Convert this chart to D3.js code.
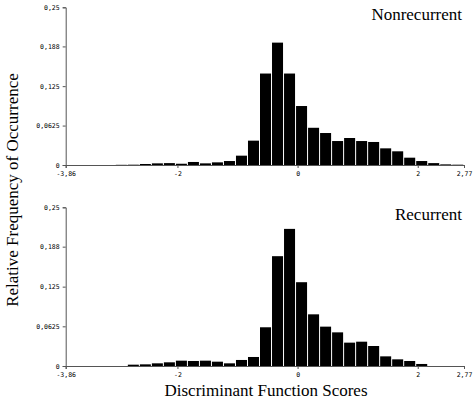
<!DOCTYPE html>
<html>
<head>
<meta charset="utf-8">
<script src="https://cdn.jsdelivr.net/npm/d3@7"></script>
<style>
body { margin: 0; background: #fff; }
.tick text { font-family: "DejaVu Sans Mono", monospace; font-size: 6.5px; }
.axis path, .axis line { stroke: #555; }
</style>
</head>
<body>
<svg id="chart" width="474" height="403"></svg>
<script>
"use strict";
// bin left edges: firstEdge + binWidth * i
var firstEdge = -3.034;
var binWidth = 0.2;
var nonrecurrent = [0.0003, 0.0005, 0.0016, 0.0026, 0.003, 0.002, 0.0048, 0.0026, 0.0042, 0.0063,
                    0.0148, 0.0386, 0.145, 0.194, 0.145, 0.0935, 0.059, 0.0507, 0.038, 0.0428,
                    0.038, 0.0365, 0.0264, 0.0217, 0.0116, 0.0063, 0.003, 0.001, 0.0005];
var recurrent = [0, 0.0021, 0.0026, 0.0042, 0.0058, 0.0084, 0.0079, 0.0084, 0.0068, 0.0042, 0.0095,
                 0.0142, 0.061, 0.173, 0.216, 0.132, 0.0814, 0.062, 0.053, 0.0368, 0.0383,
                 0.0315, 0.0152, 0.0105, 0.0079, 0.0032, 0, 0, 0];
var xTicks = [-3.86, -2, 0, 2, 2.77];
var yTicks = [0, 0.0625, 0.125, 0.188, 0.25];
var yTickLabels = ["0", "0,0625", "0,125", "0,188", "0,25"];
var panels = [
	{ name: "Nonrecurrent", values: nonrecurrent, top: 7.3, bottom: 165 },
	{ name: "Recurrent", values: recurrent, top: 207.3, bottom: 366 }
];

var svg = d3.select("#chart");
var x = d3.scaleLinear().domain([-3.86, 2.77]).range([65.7, 464]);

panels.forEach(function(p) {
	var y = d3.scaleLinear().domain([0, 0.25]).range([p.bottom, p.top]);
	var bins = p.values.map(function(v, i) {
		return { x0: firstEdge + binWidth * i, v: v };
	});
	svg.append("g").selectAll("rect")
	  .data(bins.filter(function(d) { return d.v > 0; }))
	  .enter()
	  .append("rect")
	    .attr("x", function(d) { return x(d.x0) + 0.5; })
	    .attr("width", function(d) { return x(d.x0 + binWidth) - x(d.x0) - 1; })
	    .attr("y", function(d) { return y(d.v); })
	    .attr("height", function(d) { return y(0) - y(d.v); })
	    .attr("fill", "#000");

	svg.append("g")
	  .attr("class", "axis")
	  .attr("transform", "translate(0," + p.bottom + ")")
	  .call(d3.axisBottom(x).tickValues(xTicks).tickSize(3)
	    .tickFormat(function(d) { return String(d).replace(".", ","); }));
	svg.append("g")
	  .attr("class", "axis")
	  .attr("transform", "translate(" + x.range()[0] + ",0)")
	  .call(d3.axisLeft(y).tickValues(yTicks).tickSize(3)
	    .tickFormat(function(d, i) { return yTickLabels[i]; }));

	svg.append("text")
	  .attr("x", 462)
	  .attr("y", p.top + 13)
	  .attr("text-anchor", "end")
	  .style("font-family", "Liberation Serif, serif")
	  .style("font-size", "17px")
	  .text(p.name);
});

svg.selectAll(".domain").attr("stroke", "#555");

svg.append("text")
  .attr("transform", "translate(18,190) rotate(-90)")
  .attr("text-anchor", "middle")
  .style("font-family", "Liberation Serif, serif")
  .style("font-size", "17px")
  .text("Relative Frequency of Occurrence");

svg.append("text")
  .attr("x", 266)
  .attr("y", 396)
  .attr("text-anchor", "middle")
  .style("font-family", "Liberation Serif, serif")
  .style("font-size", "17px")
  .text("Discriminant Function Scores");
</script>
</body>
</html>
